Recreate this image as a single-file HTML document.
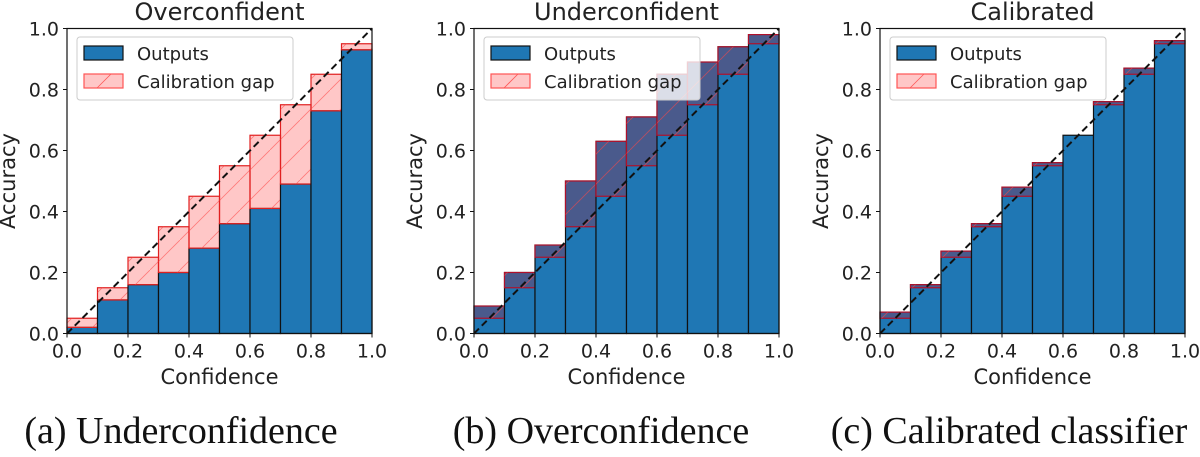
<!DOCTYPE html>
<html><head><meta charset="utf-8"><style>
body{margin:0;background:#fff;width:1200px;height:452px;overflow:hidden}
svg text{font-family:"DejaVu Sans","Liberation Sans",sans-serif;fill:#222}
.cap{font-family:"Liberation Serif",serif;font-size:38px;fill:#111}
</style></head><body>
<svg id="s" width="1200" height="452">
<defs>
<pattern id="hatch" patternUnits="userSpaceOnUse" width="30" height="30">
<path d="M0,30 L30,0" stroke="#ff4444" stroke-width="0.8" opacity="0.6"/>
</pattern>
</defs>
</svg>
<script>
const bins=[0,0.1,0.2,0.3,0.4,0.5,0.6,0.7,0.8,0.9];
const centers=[0.05,0.15,0.25,0.35,0.45,0.55,0.65,0.75,0.85,0.95];
const accOver=[0.02,0.11,0.16,0.20,0.28,0.36,0.41,0.49,0.73,0.93];
const accUnder=[0.09,0.20,0.29,0.50,0.63,0.71,0.85,0.89,0.94,0.98];
const accCal=[0.07,0.16,0.27,0.36,0.48,0.56,0.65,0.76,0.87,0.96];
const ticks=[0,0.2,0.4,0.6,0.8,1.0];
const tickLabels=["0.0","0.2","0.4","0.6","0.8","1.0"];
const titles=["Overconfident","Underconfident","Calibrated"];
const captions=["(a) Underconfidence","(b) Overconfidence","(c) Calibrated classifier"];
const panels=[{l:67,acc:accOver},{l:474,acc:accUnder},{l:880,acc:accCal}];
const capX=[181,601,1009];
const W=305,T=28.5,B=333.5,H=B-T;
const svg=document.getElementById('s');
const NS='http://www.w3.org/2000/svg';
function mk(tag,attrs,parent){const e=document.createElementNS(NS,tag);for(const k in attrs)e.setAttribute(k,attrs[k]);(parent||svg).appendChild(e);return e;}
panels.forEach((p,pi)=>{
  const g=mk('g',{});
  
  
  const X=v=>p.l+v*W, Y=v=>B-v*H;
  const bw=0.1*W;
  bins.forEach((b,i)=>{
    const a=p.acc[i],c=centers[i],lo=Math.min(a,c),hi=Math.max(a,c);
    const r=mk('rect',{x:X(b),y:Y(a),width:bw,height:Y(0)-Y(a),fill:'#1f77b4',stroke:'#111','stroke-width':1.2},g);
    
    
    const over=a>c;
    const gp=mk('rect',{x:X(b),y:Y(hi),width:bw,height:Y(lo)-Y(hi),fill:over?'#4a5a8c':'rgba(255,0,0,0.22)',stroke:over?'#b0102a':'#e02020','stroke-width':1.2},g);
    
    
    mk('rect',{x:X(b),y:Y(hi),width:bw,height:Y(lo)-Y(hi),fill:'url(#hatch)'},g);
  });
  const d=mk('line',{x1:X(0),y1:Y(0),x2:X(1),y2:Y(1),stroke:'#111','stroke-width':2,'stroke-dasharray':'7,4'},g);
  
  
  const fr=mk('rect',{x:p.l,y:T,width:W,height:H,fill:'none',stroke:'#111','stroke-width':1.2},g);
  
  
  ticks.forEach((t,i)=>{
    mk('line',{x1:X(t),y1:B,x2:X(t),y2:B+4,stroke:'#111'},g);
    mk('line',{x1:p.l-4,y1:Y(t),x2:p.l,y2:Y(t),stroke:'#111'},g);
    const tx=mk('text',{x:X(t),y:B+24,'text-anchor':'middle','font-size':19},g);tx.textContent=tickLabels[i];
    
    const ty=mk('text',{x:p.l-8,y:Y(t)+7,'text-anchor':'end','font-size':19},g);ty.textContent=tickLabels[i];
    
  });
  const xl=mk('text',{x:p.l+W/2,y:384,'text-anchor':'middle','font-size':21},g);xl.textContent='Confidence';
  
  const yl=mk('text',{x:0,y:0,'text-anchor':'middle','font-size':21,transform:`translate(${p.l-52},${T+H/2}) rotate(-90)`},g);yl.textContent='Accuracy';
  
  const ti=mk('text',{x:p.l+W/2,y:20,'text-anchor':'middle','font-size':24},g);ti.textContent=titles[pi];
  
  const lg=mk('g',{},g);
  
  
  mk('rect',{x:p.l+10,y:37,width:216,height:63,rx:3,fill:'rgba(255,255,255,0.8)',stroke:'#ccc'},lg);
  mk('rect',{x:p.l+17,y:46,width:39,height:14,fill:'#1f77b4',stroke:'#111','stroke-width':1.2},lg);
  mk('rect',{x:p.l+17,y:74,width:39,height:14,fill:'rgba(255,0,0,0.22)',stroke:'#ff5555','stroke-width':1.2},lg);
  mk('line',{x1:p.l+30,y1:88,x2:p.l+44,y2:74,stroke:'#ff5555','stroke-width':0.8},lg);
  const l1=mk('text',{x:p.l+70,y:60,'font-size':18},lg);l1.textContent='Outputs';
  
  const l2=mk('text',{x:p.l+70,y:88,'font-size':18},lg);l2.textContent='Calibration gap';
  
  const cp=mk('text',{x:capX[pi],y:443,'text-anchor':'middle',class:'cap'});cp.textContent=captions[pi];
  
});
</script>
</body></html>
